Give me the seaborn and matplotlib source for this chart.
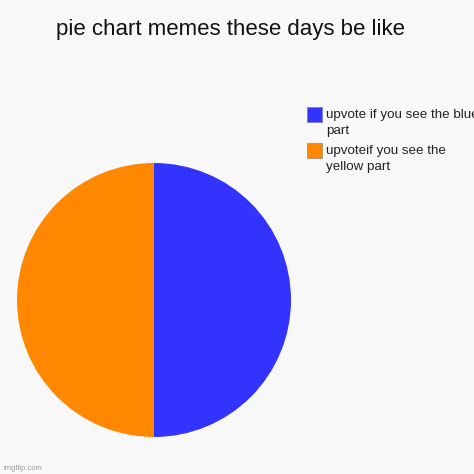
import matplotlib
matplotlib.use("Agg")
import matplotlib.pyplot as plt
from matplotlib.patches import Rectangle
import seaborn as sns

# chart data
labels = ["upvote if you see the blue\npart", "upvoteif you see the\nyellow part"]
values = [50, 50]
colors = ["#3333ff", "#ff8800"]
title = "pie chart memes these days be like"

sns.set_theme(style="white")
plt.rcParams["font.family"] = ["Liberation Sans", "DejaVu Sans"]

bg = "#f8f8f8"
W = H = 474
fig = plt.figure(figsize=(W / 100, H / 100), dpi=100, facecolor=bg)

# pie axes placed in pixels: center (154, 300), radius 137
cx, cy, r = 154, 300, 137
ax = fig.add_axes([(cx - r) / W, (H - cy - r) / H, 2 * r / W, 2 * r / H])
ax.set_facecolor(bg)
wedges, _ = ax.pie(values, colors=colors, startangle=90, counterclock=False,
                   radius=1, wedgeprops=dict(linewidth=0))
ax.set_xlim(-1, 1)
ax.set_ylim(-1, 1)
ax.set_aspect("equal")
ax.axis("off")

fig.text(230 / W, 1 - 30 / H, title, ha="center", va="center",
         fontsize=16, color="#111111")

# legend: square aligned with the first line of each wrapped label
for i, (lab, w) in enumerate(zip(labels, wedges)):
    top = 107 + 36 * i
    fig.patches.append(Rectangle((307 / W, 1 - (top + 15) / H), 15 / W, 15 / H,
                                 transform=fig.transFigure,
                                 facecolor=w.get_facecolor(),
                                 edgecolor="#777777", linewidth=0.4))
    fig.text(326 / W, 1 - (top + 2) / H, lab, ha="left", va="top",
             fontsize=9.6, linespacing=1.4, color="#222222")

fig.text(3 / W, 1 - 468 / H, "imgflip.com", ha="left", va="center",
         fontsize=5.5, color="#999999")

plt.savefig("out.png", dpi=100, facecolor=bg)
